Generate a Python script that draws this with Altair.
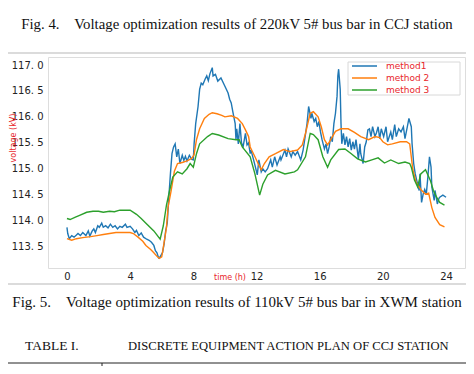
import altair as alt
import pandas as pd

# ---------------- data ----------------
methods = ["method1", "method 2", "method 3"]
colors = ["#1f77b4", "#ff7f0e", "#2ca02c"]

hours1 = [0.0, 0.05, 0.15, 0.3, 0.45, 0.6, 0.7, 0.85, 1.0, 1.2, 1.35, 1.45, 1.6, 1.7, 1.8, 1.95,
          2.05, 2.2, 2.3, 2.45, 2.6, 2.75, 2.9, 3.05, 3.2, 3.35, 3.5, 3.7, 3.8, 4.0, 4.15, 4.3,
          4.4, 4.55, 4.7, 4.85, 5.05, 5.2, 5.35, 5.5, 5.6, 5.7, 5.8, 5.9, 6.05, 6.15, 6.25, 6.35,
          6.45, 6.55, 6.65, 6.75, 6.85, 6.95, 7.05, 7.15, 7.3, 7.4, 7.5, 7.6, 7.75, 7.9, 8.0, 8.05,
          8.15, 8.3, 8.4, 8.5, 8.6, 8.75, 8.85, 8.95, 9.05, 9.2, 9.25, 9.4, 9.55, 9.75, 10.0, 10.2,
          10.3, 10.4, 10.5, 10.65, 10.7, 10.75, 10.85, 10.95, 11.05, 11.15, 11.3, 11.4, 11.5, 11.6,
          11.65, 11.8, 11.9, 12.05, 12.15, 12.3, 12.4, 12.55, 12.7, 12.9, 13.0, 13.15, 13.3, 13.5,
          13.55, 13.8, 13.9, 14.0, 14.2, 14.3, 14.45, 14.6, 14.8, 14.95, 15.05, 15.2, 15.3, 15.45,
          15.5, 15.65, 15.75, 15.85, 15.95, 16.05, 16.15, 16.3, 16.4, 16.5, 16.6, 16.7, 16.8, 16.9,
          17.0, 17.1, 17.15, 17.2, 17.3, 17.35, 17.4, 17.5, 17.6, 17.7, 17.8, 17.9, 18.0, 18.1,
          18.2, 18.3, 18.45, 18.55, 18.6, 18.75, 18.85, 18.95, 19.05, 19.15, 19.25, 19.35, 19.5,
          19.6, 19.7, 19.8, 19.9, 20.05, 20.2, 20.3, 20.5, 20.6, 20.75, 20.85, 21.0, 21.15, 21.3,
          21.4, 21.55, 21.65, 21.8, 21.85, 21.95, 22.05, 22.2, 22.3, 22.35, 22.45, 22.55, 22.65,
          22.75, 22.85, 22.95, 23.05, 23.1, 23.25, 23.3, 23.45, 23.55, 23.6, 23.8, 24.0]
volt1 = [113.87, 113.75, 113.65, 113.71, 113.68, 113.72, 113.75, 113.71, 113.77, 113.71, 113.8,
         113.7, 113.8, 113.84, 113.77, 113.9, 113.87, 113.95, 113.87, 113.9, 113.86, 113.93,
         113.87, 113.9, 113.84, 113.89, 113.87, 113.93, 113.87, 113.89, 113.84, 113.77, 113.81,
         113.71, 113.76, 113.68, 113.64, 113.62, 113.58, 113.52, 113.42, 113.38, 113.28, 113.3,
         113.38, 113.55, 113.8, 113.95, 114.45, 114.9, 115.29, 115.42, 115.48, 115.23, 115.38,
         115.1, 115.26, 115.16, 115.24, 115.15, 115.26, 115.18, 115.17, 115.48, 115.87, 116.2,
         116.53, 116.65, 116.62, 116.73, 116.79, 116.7, 116.83, 116.95, 116.79, 116.82, 116.69,
         116.75, 116.59, 116.46, 116.34, 116.27, 116.1, 115.87, 115.56, 115.77, 115.48, 115.87,
         115.5, 115.42, 115.68, 115.46, 115.5, 115.29, 115.36, 115.19, 115.07, 114.88, 115.17,
         114.94, 115.0, 114.94, 115.0, 115.17, 115.03, 115.23, 115.07, 115.23, 115.17, 115.36,
         115.23, 115.38, 115.23, 115.33, 115.26, 115.33, 115.17, 115.36, 115.56, 115.87, 116.2,
         115.97, 116.07, 115.91, 115.97, 115.81, 115.91, 115.71, 115.56, 115.38, 115.48, 115.29,
         115.42, 115.62, 115.52, 115.87, 116.07, 116.4, 116.79, 116.92, 116.53, 115.87, 115.48,
         115.68, 115.46, 115.62, 115.42, 115.58, 115.36, 115.52, 115.38, 115.56, 115.19, 115.48,
         115.29, 115.1, 115.42, 115.52, 115.75, 115.77, 115.62, 115.81, 115.62, 115.7, 115.81,
         115.58, 115.77, 115.62, 115.81, 115.52, 115.71, 115.56, 115.85, 115.62, 115.77, 115.71,
         115.81, 115.58, 115.81, 115.97, 115.81, 115.48, 115.1, 114.9, 114.7, 114.58, 114.9,
         114.35, 114.51, 114.6, 114.51, 114.84, 115.23, 115.03, 114.65, 114.39, 114.58, 114.32,
         114.43, 114.45, 114.49, 114.45]

hours2 = [0.0, 0.3, 0.6, 1.0, 1.5, 1.9, 2.3, 2.7, 3.1, 3.55, 4.0, 4.2, 4.5, 4.8, 5.0, 5.3, 5.5,
          5.7, 5.85, 6.0, 6.1, 6.3, 6.4, 6.6, 6.8, 7.0, 7.3, 7.6, 7.9, 8.05, 8.2, 8.4, 8.7, 9.0,
          9.2, 9.5, 9.8, 10.0, 10.4, 10.8, 11.1, 11.3, 11.5, 11.6, 11.9, 12.1, 12.3, 12.5, 12.8,
          13.2, 13.7, 14.1, 14.6, 14.9, 15.1, 15.4, 15.6, 15.9, 16.1, 16.3, 16.5, 16.7, 17.0,
          17.35, 17.8, 18.2, 18.6, 19.1, 19.5, 19.8, 20.0, 20.3, 20.6, 21.1, 21.5, 21.7, 21.8,
          21.9, 22.1, 22.4, 22.7, 22.9, 23.1, 23.3, 23.6, 23.9]
volt2 = [113.65, 113.62, 113.65, 113.67, 113.69, 113.71, 113.73, 113.75, 113.77, 113.77, 113.77,
         113.75, 113.68, 113.6, 113.52, 113.44, 113.38, 113.31, 113.27, 113.3, 113.48, 113.87,
         114.26, 114.58, 114.95, 115.1, 115.12, 115.15, 115.2, 115.27, 115.56, 115.77, 115.97,
         116.05, 116.08, 116.06, 116.03, 116.0, 116.02, 115.97, 115.87, 115.75, 115.62, 115.42,
         115.23, 115.1, 114.98, 115.1, 115.23, 115.29, 115.37, 115.33, 115.36, 115.46, 115.68,
         116.07, 116.1, 116.0, 115.81, 115.56, 115.46, 115.56, 115.72, 115.77, 115.77, 115.7,
         115.62, 115.56, 115.62, 115.6, 115.52, 115.46, 115.48, 115.52, 115.52, 115.48, 115.23,
         114.98, 114.74, 114.6, 114.51, 114.53, 114.25, 114.06, 113.92, 113.88]

hours3 = [0.0, 0.2, 0.5, 0.8, 1.25, 1.65, 2.0, 2.3, 2.7, 3.0, 3.35, 4.0, 4.4, 4.7, 5.0, 5.5, 5.9,
          6.1, 6.3, 6.5, 6.7, 7.0, 7.3, 7.6, 7.8, 8.0, 8.2, 8.4, 8.9, 9.2, 9.6, 10.2, 10.7, 10.9,
          11.1, 11.6, 11.9, 12.2, 12.4, 12.7, 13.2, 13.8, 14.4, 14.6, 15.1, 15.4, 15.6, 15.9,
          16.2, 16.5, 16.7, 17.2, 17.6, 18.0, 18.4, 18.9, 19.3, 19.7, 20.1, 20.5, 21.0, 21.4,
          21.7, 21.8, 22.0, 22.2, 22.4, 22.7, 23.0, 23.2, 23.4, 23.6, 23.9]
volt3 = [114.04, 114.02, 114.06, 114.1, 114.16, 114.18, 114.18, 114.16, 114.18, 114.17, 114.2,
         114.2, 114.12, 114.04, 113.95, 113.8, 113.64, 113.9, 114.3, 114.58, 114.84, 114.94,
         114.9, 115.0, 115.1, 115.03, 115.29, 115.48, 115.62, 115.68, 115.65, 115.58, 115.56,
         115.56, 115.42, 115.23, 114.9, 114.49, 114.7, 114.88, 114.97, 114.9, 114.94, 114.98,
         115.23, 115.68, 115.66, 115.56, 115.23, 115.03, 115.17, 115.37, 115.38, 115.29, 115.19,
         115.13, 115.17, 115.21, 115.11, 115.17, 115.1, 115.13, 115.1, 115.03, 114.78, 114.65,
         114.9, 114.98, 114.78, 114.58, 114.45, 114.35, 114.3]

x_ticks = [0, 4, 8, 12, 16, 20, 24]
y_ticks = [113.5, 114.0, 114.5, 115.0, 115.5, 116.0, 116.5, 117.0]

NB = "\u00a0"
caption_top = "Fig. 4." + NB * 4 + "Voltage optimization results of 220kV 5# bus bar in CCJ station"
caption_bottom = "Fig. 5." + NB * 4 + "Voltage optimization results of 110kV 5# bus bar in XWM station"
table_no = "TABLE I."
table_title = "DISCRETE EQUIPMENT ACTION PLAN OF CCJ STATION"
x_title = "time (h)"
y_title = "voltage (kV)"

# ---------------- build ----------------
frames = []
for name, hh, vv in [(methods[0], hours1, volt1), (methods[1], hours2, volt2), (methods[2], hours3, volt3)]:
    frames.append(pd.DataFrame({"time": hh, "voltage": vv, "method": name}))
df = pd.concat(frames, ignore_index=True)

W, H = 417, 211
RED = "#e8262b"
one = alt.Data(values=[{}])

lines = alt.Chart(df).mark_line(strokeWidth=1.4).encode(
    x=alt.X("time:Q",
            scale=alt.Scale(domain=[-1.2, 25.2], nice=False, zero=False),
            axis=alt.Axis(values=x_ticks, title=None, grid=False, ticks=False, domain=False,
                          labelPadding=3, labelFontSize=10, labelColor="#222",
                          labelFont="DejaVu Sans")),
    y=alt.Y("voltage:Q",
            scale=alt.Scale(domain=[113.085, 117.155], nice=False, zero=False),
            axis=alt.Axis(values=y_ticks, title=None, grid=False, ticks=False, domain=False,
                          labelPadding=5, labelFontSize=10, labelColor="#222",
                          labelFont="DejaVu Sans",
                          labelExpr="replace(format(datum.value, '.1f'), '.', '. ')")),
    color=alt.Color("method:N", scale=alt.Scale(domain=methods, range=colors), legend=None),
    order=alt.Order("time:Q"),
)

layers = [lines]

# axis titles (red, small)
layers.append(alt.Chart(one).mark_text(text=x_title, color=RED, fontSize=8, font="DejaVu Sans",
                                        baseline="middle", align="center")
              .encode(x=alt.value(182), y=alt.value(221)))
layers.append(alt.Chart(one).mark_text(text=y_title, color=RED, fontSize=8, font="DejaVu Sans",
                                        angle=270, baseline="middle", align="center")
              .encode(x=alt.value(-34), y=alt.value(81)))

# legend box
layers.append(alt.Chart(one).mark_rect(fill="white", stroke="#d8d8d8", strokeWidth=1)
              .encode(x=alt.value(300), x2=alt.value(412), y=alt.value(5), y2=alt.value(38)))
for i, (m, c) in enumerate(zip(methods, colors)):
    yy = 9 + 12 * i
    layers.append(alt.Chart(one).mark_rule(color=c, strokeWidth=1.5)
                  .encode(x=alt.value(304), x2=alt.value(329), y=alt.value(yy)))
    layers.append(alt.Chart(one).mark_text(text=m, color=RED, fontSize=9, font="DejaVu Sans",
                                            align="left", baseline="middle")
                  .encode(x=alt.value(338), y=alt.value(yy)))

# figure image borders
for yy in (-4, 227):
    layers.append(alt.Chart(one).mark_rule(color="#cfcfcf", strokeWidth=1.5)
                  .encode(x=alt.value(-40), x2=alt.value(418), y=alt.value(yy)))

# captions
layers.append(alt.Chart(one).mark_text(text=caption_top, font="Liberation Serif", fontSize=14.8,
                                        color="#111", align="center", baseline="alphabetic")
              .encode(x=alt.value(189), y=alt.value(-28)))
layers.append(alt.Chart(one).mark_text(text=caption_bottom, font="Liberation Serif", fontSize=15,
                                        color="#111", align="center", baseline="alphabetic")
              .encode(x=alt.value(189), y=alt.value(250)))
layers.append(alt.Chart(one).mark_text(text=table_no, font="Liberation Serif", fontSize=13.5,
                                        color="#111", align="left", baseline="alphabetic")
              .encode(x=alt.value(-23), y=alt.value(293)))
layers.append(alt.Chart(one).mark_text(text=table_title, font="Liberation Serif", fontSize=12.6,
                                        color="#111", align="left", baseline="alphabetic")
              .encode(x=alt.value(80), y=alt.value(293)))

# table top rule and column divider
layers.append(alt.Chart(one).mark_rule(color="#222", strokeWidth=1)
              .encode(x=alt.value(-40), x2=alt.value(418), y=alt.value(306)))
layers.append(alt.Chart(one).mark_rule(color="#222", strokeWidth=1)
              .encode(x=alt.value(54), y=alt.value(306), y2=alt.value(312)))

chart = alt.layer(*layers).properties(
    width=W, height=H,
    padding={"left": 40, "top": 49, "right": 1, "bottom": 98},
    autosize=alt.AutoSizeParams(type="none"),
).configure_view(stroke="#8a8a8a", strokeWidth=1.2).configure(background="white")

chart.save("out.html", embed_options={"renderer": "svg", "actions": False})
